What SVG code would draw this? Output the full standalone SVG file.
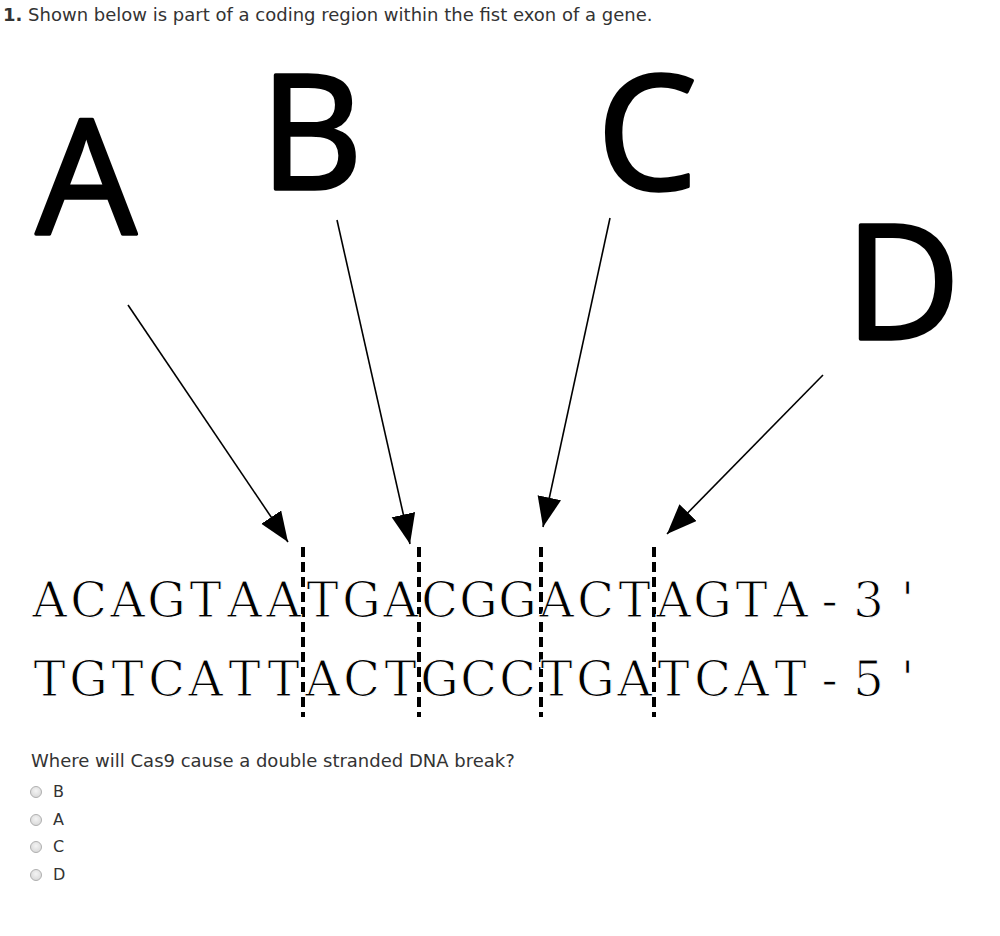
<svg xmlns="http://www.w3.org/2000/svg" width="1000" height="936" viewBox="0 0 1000 936">
<style>
.hdr{font-family:"DejaVu Sans",Verdana,sans-serif;font-size:18px;fill:#333}
.big{font-family:"Open Sans",sans-serif;font-size:159px;fill:#000;stroke:#000;stroke-width:3.5;stroke-linejoin:round}
.seq{font-family:"DejaVu Serif","Liberation Serif",serif;font-size:48px;fill:#000;stroke:#fff;stroke-width:1;text-anchor:middle}
.q{font-family:"DejaVu Sans",Verdana,sans-serif;font-size:18px;fill:#333}
.opt{font-family:"DejaVu Sans",Verdana,sans-serif;font-size:16px;fill:#333}
.arrow{stroke:#000;stroke-width:1.6;fill:none;marker-end:url(#ah)}
.cut{stroke:#000;stroke-width:4;stroke-dasharray:10 5;fill:none}
.radio{fill:url(#rg);stroke:#b0b0b0;stroke-width:1}
</style>
<defs>
<marker id="ah" markerUnits="userSpaceOnUse" markerWidth="32" markerHeight="26" refX="30" refY="12" orient="auto">
<path d="M0,0 L30,12 L0,24 z" fill="#000"/>
</marker>
<radialGradient id="rg" cx="0.5" cy="0.4" r="0.6">
<stop offset="0" stop-color="#f4f4f4"/>
<stop offset="1" stop-color="#d8d8d8"/>
</radialGradient>
</defs>
<rect width="1000" height="936" fill="#fff"/>
<text class="hdr" x="3" y="21"><tspan font-weight="bold">1.</tspan> Shown below is part of a coding region within the fist exon of a gene.</text>
<g id="label-A"><text class="big" x="36" y="234">A</text></g>
<g id="label-B"><text class="big" x="260" y="189">B</text></g>
<g id="label-C"><text class="big" x="597" y="189">C</text></g>
<g id="label-D"><text class="big" x="845" y="339">D</text></g>
<g id="connectors">
<line class="arrow" x1="128" y1="305" x2="288" y2="542"/>
<line class="arrow" x1="337" y1="220" x2="410" y2="544"/>
<line class="arrow" x1="610" y1="218" x2="543" y2="527"/>
<line class="arrow" x1="823" y1="375" x2="667" y2="534"/>
</g>
<g id="cuts">
<line class="cut" x1="303" y1="547" x2="303" y2="717"/>
<line class="cut" x1="419" y1="547" x2="419" y2="717"/>
<line class="cut" x1="541" y1="547" x2="541" y2="717"/>
<line class="cut" x1="654" y1="547" x2="654" y2="717"/>
</g>
<g id="sequence">
<text class="seq" x="49.5 88.5 127.5 166.5 205.5 244.5 283.5 322.5 361.5 400.5 439.5 478.5 517.5 556.5 595.5 634.5 673.5 712.5 751.5 790.5 829.5 868.5 907.5" y="617">ACAGTAATGACGGACTAGTA-3'</text>
<text class="seq" x="49.5 88.5 127.5 166.5 205.5 244.5 283.5 322.5 361.5 400.5 439.5 478.5 517.5 556.5 595.5 634.5 673.5 712.5 751.5 790.5 829.5 868.5 907.5" y="696">TGTCATTACTGCCTGATCAT-5'</text>
</g>
<g id="question">
<text class="q" x="31" y="767">Where will Cas9 cause a double stranded DNA break?</text>
<circle class="radio" cx="36" cy="792" r="5.5"/><text class="opt" x="53" y="797">B</text>
<circle class="radio" cx="36" cy="820" r="5.5"/><text class="opt" x="53" y="825">A</text>
<circle class="radio" cx="36" cy="847" r="5.5"/><text class="opt" x="53" y="852">C</text>
<circle class="radio" cx="36" cy="875" r="5.5"/><text class="opt" x="53" y="880">D</text>
</g>
</svg>
